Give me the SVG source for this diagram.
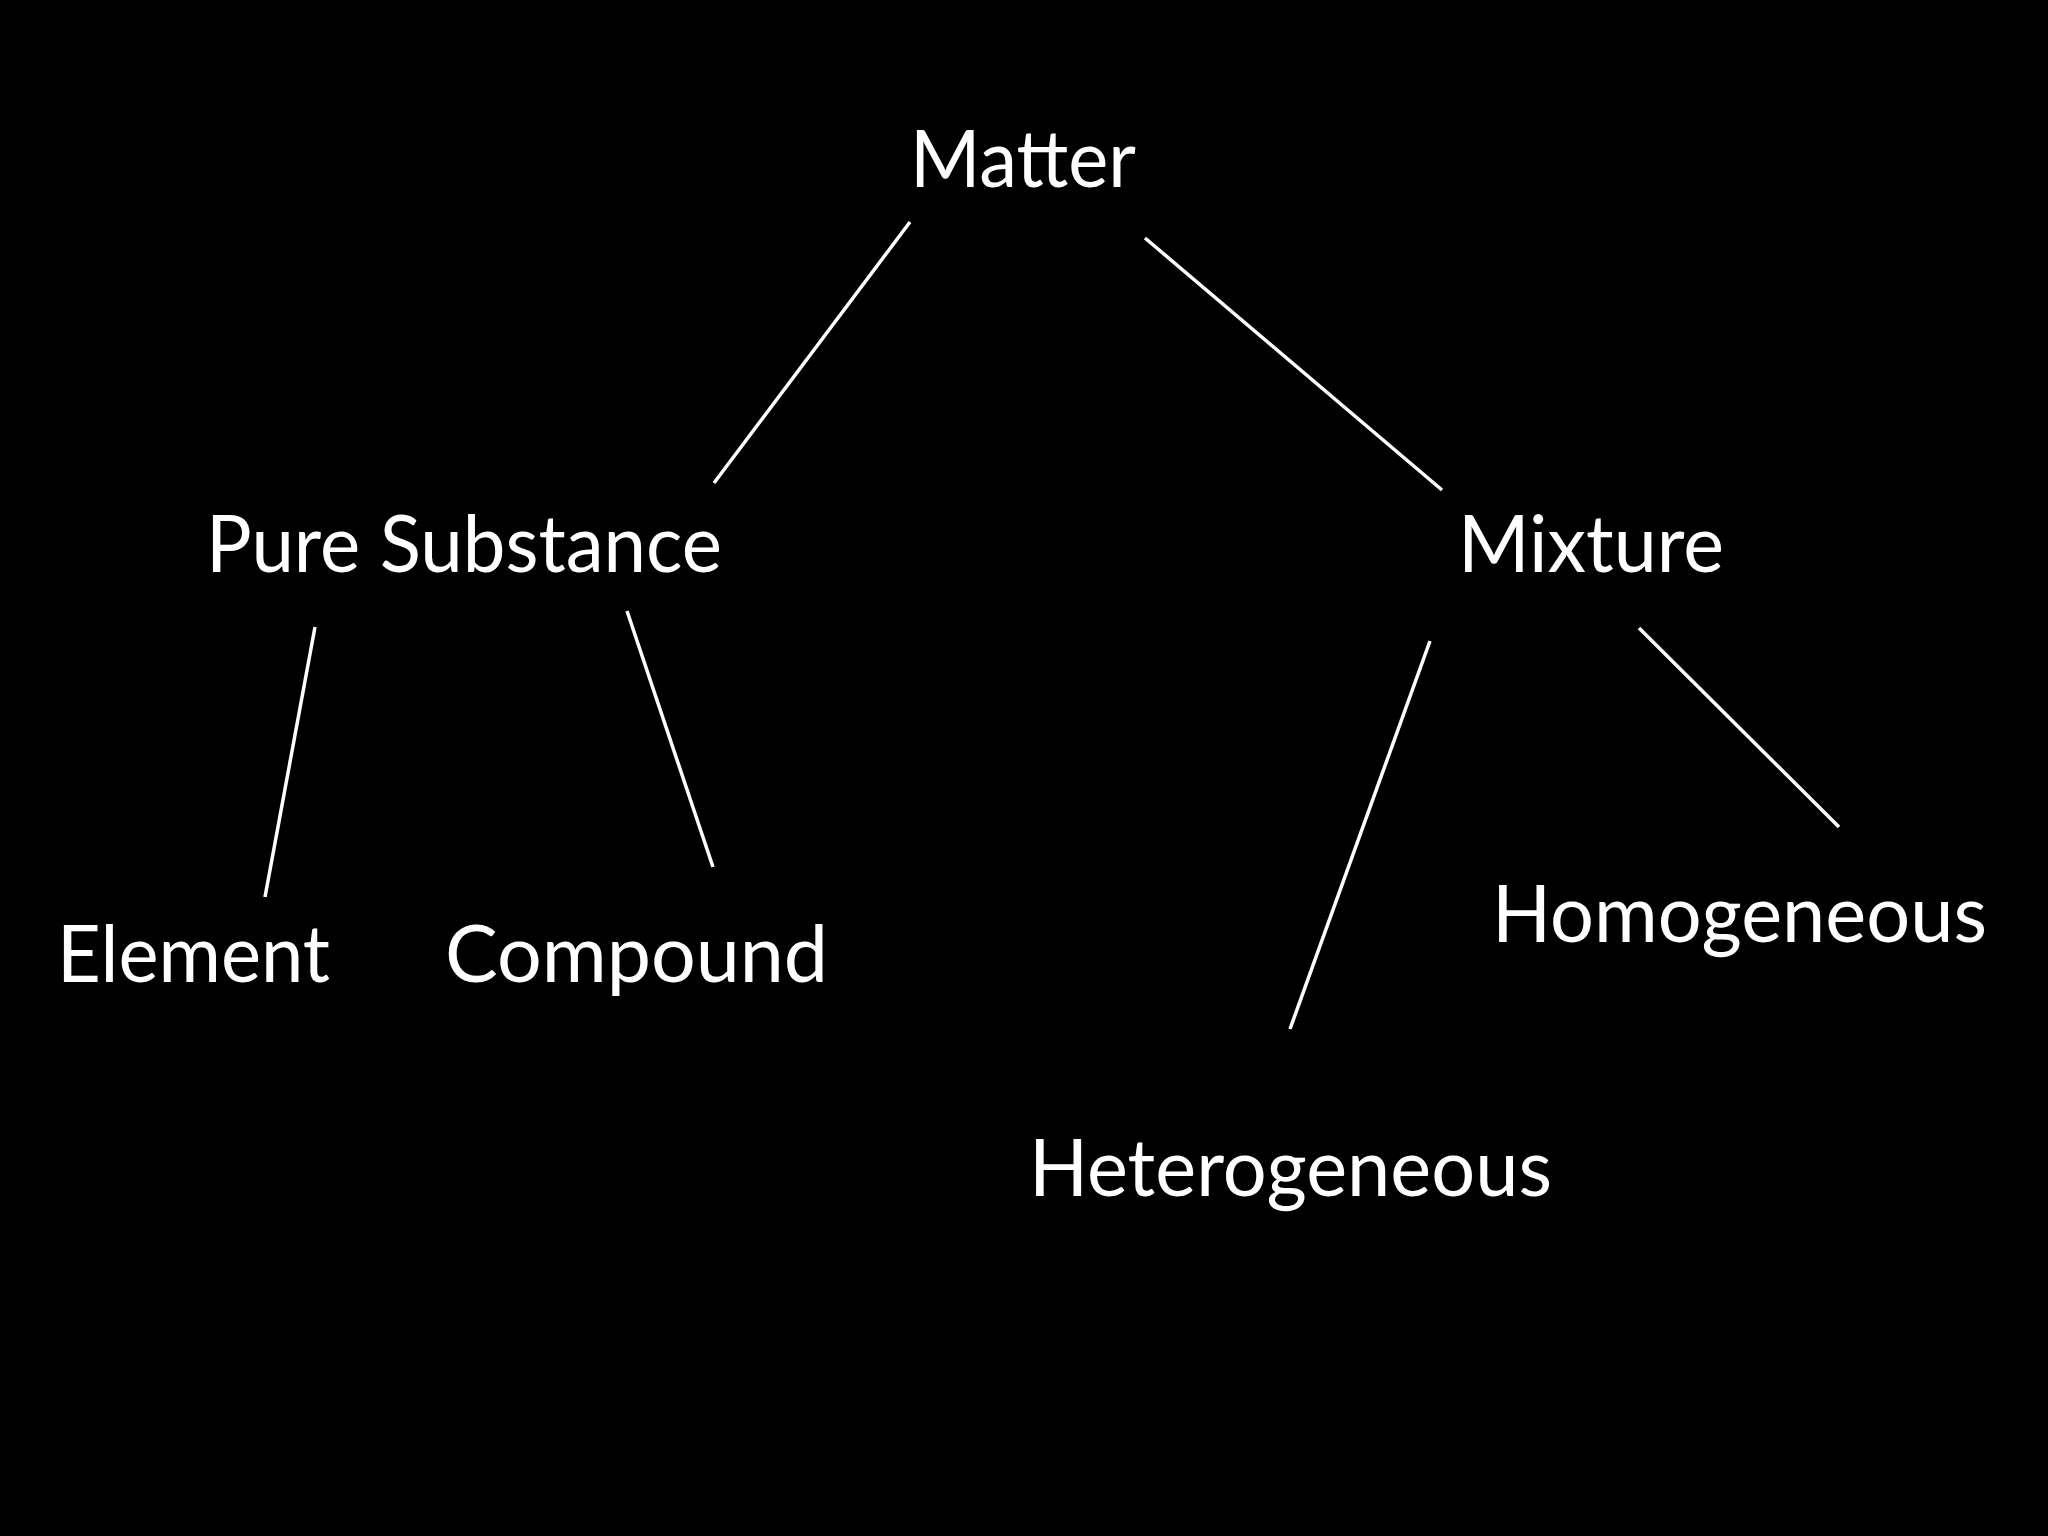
<svg xmlns="http://www.w3.org/2000/svg" width="2048" height="1536" viewBox="0 0 2048 1536">
<style>
.t{font-family:Lato,"Open Sans","Liberation Sans",sans-serif;font-size:80px;fill:#fff}
.c line{stroke:#fff;stroke-width:3.5}
</style>
<rect width="2048" height="1536" fill="#000"/>
<g id="connectors" class="c">
<line x1="910" y1="222" x2="714" y2="483"/>
<line x1="1145" y1="238" x2="1442" y2="490"/>
<line x1="315" y1="627" x2="265" y2="897"/>
<line x1="627" y1="611" x2="713" y2="867"/>
<line x1="1430" y1="641" x2="1290" y2="1029"/>
<line x1="1639" y1="628" x2="1839" y2="827"/>
</g>
<g id="matter"><text class="t" x="910" y="187" textLength="226" lengthAdjust="spacingAndGlyphs">Matter</text></g>
<g id="pure"><text class="t" x="206" y="572" textLength="516" lengthAdjust="spacingAndGlyphs">Pure Substance</text></g>
<g id="mixture"><text class="t" x="1458" y="572" textLength="266" lengthAdjust="spacingAndGlyphs">Mixture</text></g>
<g id="element"><text class="t" x="57" y="982" textLength="273" lengthAdjust="spacingAndGlyphs">Element</text></g>
<g id="compound"><text class="t" x="445" y="982" textLength="383" lengthAdjust="spacingAndGlyphs">Compound</text></g>
<g id="homogeneous"><text class="t" x="1492" y="942" textLength="495" lengthAdjust="spacingAndGlyphs">Homogeneous</text></g>
<g id="heterogeneous"><text class="t" x="1029" y="1196" textLength="523" lengthAdjust="spacingAndGlyphs">Heterogeneous</text></g>
</svg>
